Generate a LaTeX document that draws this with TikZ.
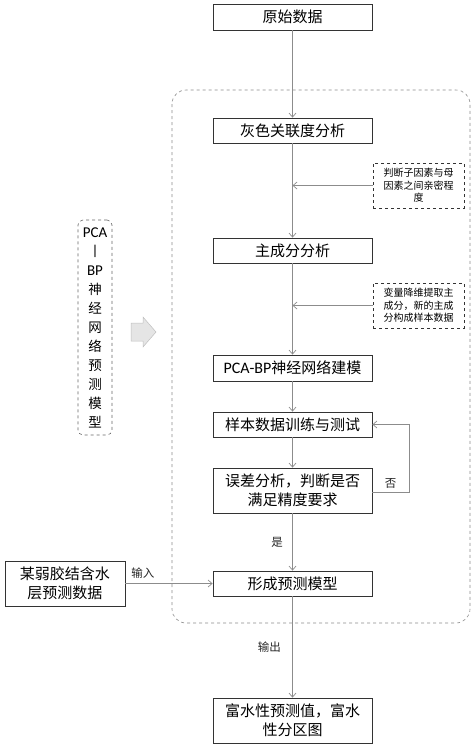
\documentclass[tikz,border=0pt]{standalone}
\usepackage{fontspec}
\setmainfont{Noto Sans CJK SC}
\newfontfamily\carl{Carlito}
\usetikzlibrary{arrows.meta}
\begin{document}
\begin{tikzpicture}[x=1pt,y=-1pt,
  mainbox/.style={draw=black!80,line width=0.8pt,minimum width=159pt,inner sep=2pt,align=center,text width=152pt,font=\fontsize{15}{19}\selectfont},
  notebox/.style={draw=black!80,dashed,line width=0.7pt,minimum width=91pt,minimum height=45pt,inner sep=1pt,align=center,text width=86pt,font=\fontsize{10}{12.5}\selectfont},
  conn/.style={draw=black!45,line width=0.7pt,-{Straight Barb[length=4pt,width=7pt]}},
  lbl/.style={font=\fontsize{11.5}{13}\selectfont,text=black!85}]
\useasboundingbox (0,0) rectangle (474,748);
\draw[black!45,dashed,line width=0.6pt,rounded corners=14pt] (172,90) rectangle (470,623);
\node[mainbox,minimum height=26pt] (orig) at (292.5,17) {原始数据};
\node[mainbox,minimum height=25pt] (grey) at (292.5,130.5) {灰色关联度分析};
\node[mainbox,minimum height=25pt] (pc) at (292.5,250.5) {主成分分析};
\node[mainbox,minimum height=26pt] (pcabp) at (292.5,368) {{\carl\fontsize{16}{19}\selectfont PCA-BP}神经网络建模};
\node[mainbox,minimum height=25pt] (train) at (292.5,424.5) {样本数据训练与测试};
\node[mainbox,minimum height=45pt] (err) at (292.5,490.5) {误差分析，判断是否\\满足精度要求};
\node[mainbox,minimum height=25pt] (form) at (292.5,583.5) {形成预测模型};
\node[mainbox,minimum height=45pt] (res) at (292.5,720.5) {富水性预测值，富水\\性分区图};
\node[mainbox,minimum height=45pt,minimum width=120pt,text width=114pt] (inp) at (65,583.5) {某弱胶结含水\\层预测数据};
\node[notebox] (n1) at (418.5,185.5) {判断子因素与母\\因素之间亲密程\\度};
\node[notebox] (n2) at (418.5,305.5) {变量降维提取主\\成分，新的主成\\分构成样本数据};
\node[draw=black!60,dashed,line width=0.6pt,rounded corners=5pt,minimum width=34pt,minimum height=215pt,inner sep=1pt,align=center,font=\fontsize{13.5}{19}\selectfont] (lab) at (95,327.5) {{\carl\fontsize{15}{19}\selectfont PCA}\\丨\\{\carl\fontsize{15}{19}\selectfont BP}\\神\\经\\网\\络\\预\\测\\模\\型};
\draw[fill=black!10,draw=black!25,line width=0.5pt] (131,323)--(143,323)--(143,317)--(156,332)--(143,347)--(143,341)--(131,341)--cycle;
\draw[conn] (orig) -- (grey);
\draw[conn] (grey) -- (pc);
\draw[conn] (pc) -- (pcabp);
\draw[conn] (pcabp) -- (train);
\draw[conn] (train) -- (err);
\draw[conn] (err) -- node[lbl,pos=0.5,left=6pt] {是} (form);
\draw[conn] (form) -- node[lbl,pos=0.5,left=8pt] {输出} (res);
\draw[conn] (inp.east) -- node[lbl,pos=0.2,above=1pt] {输入} (form.west);
\coordinate (m1) at (292.5,185.5);
\coordinate (m2) at (292.5,305.5);
\draw[conn] (n1.west) -- (m1);
\draw[conn] (n2.west) -- (m2);
\coordinate (fb1) at (409,492);
\coordinate (fb2) at (409,424.5);
\draw[conn] (err.east |- fb1) -- node[lbl,pos=0.5,above=0pt] {否} (fb1) -- (fb2) -- (train.east);
\end{tikzpicture}
\end{document}
